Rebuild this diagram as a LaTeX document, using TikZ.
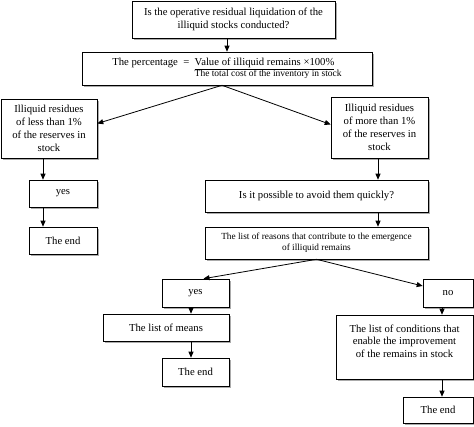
\documentclass[tikz,border=0pt]{standalone}
\usepackage{fontspec}
\setmainfont{Liberation Serif}
\usetikzlibrary{arrows.meta,shadows}
\tikzset{
	box/.style = {draw, semithick, fill = white, align = center, inner sep = 0pt,
		drop shadow = {shadow xshift = 2pt, shadow yshift = -2pt, fill = black!55, opacity = 0.6}},
	arr/.style = {thick, -{Triangle[length = 6pt, width = 5pt]}}
}
\begin{document}
\begin{tikzpicture}[x = 1pt, y = -1pt, font = \fontsize{10.7}{13}\selectfont]
	\useasboundingbox (0,0) rectangle (474,426);
	% first question and the ratio
	\node [box, minimum width = 203, minimum height = 37] (ask) at (233.5,19.5) {Is the operative residual liquidation of the\\ illiquid stocks conducted?};
	\node [box, minimum width = 290, minimum height = 33] (ratio) at (227,68.5) {The percentage\ \ =\ \ \begin{tabular}[t]{@{}l@{}}\underline{Value of illiquid remains ×100\%}\\[-2.5pt] {\fontsize{9.5}{10}\selectfont The total cost of the inventory in stock}\end{tabular}};
	% two branches
	\node [box, minimum width = 96, minimum height = 59] (less) at (49,128.5) {Illiquid residues\\ of less than 1\%\\ of the reserves in\\ stock};
	\node [box, minimum width = 97, minimum height = 61] (more) at (379.5,127.5) {Illiquid residues\\ of more than 1\%\\ of the reserves in\\ stock};
	\node [box, minimum width = 68, minimum height = 27] (yesA) at (63,193.5) {yes};
	\node [box, minimum width = 68, minimum height = 27] (endA) at (63,240.5) {The end};
	\node [box, minimum width = 223, minimum height = 32] (avoid) at (316.5,196) {Is it possible to avoid them quickly?};
	\node [box, minimum width = 223, minimum height = 32, font = \fontsize{9.3}{11}\selectfont] (reasons) at (316.5,243) {The list of reasons that contribute to the emergence\\ of illiquid remains};
	% yes / no below
	\node [box, minimum width = 67, minimum height = 28] (yesB) at (195.5,293) {yes};
	\node [box, minimum width = 50, minimum height = 28] (noB) at (448,293) {no};
	\node [box, minimum width = 126, minimum height = 27] (means) at (166,327.5) {The list of means};
	\node [box, minimum width = 67, minimum height = 28] (endB) at (195.5,372) {The end};
	\node [box, minimum width = 137, minimum height = 64, font = \fontsize{10.7}{12.5}\selectfont] (cond) at (404.5,347) {The list of conditions that\\ enable the improvement\\ of the remains in stock\\ ~};
	\node [box, minimum width = 70, minimum height = 26] (endC) at (438,410) {The end};
	% connectors
	\draw [arr] (ask.south -| ratio.north) -- (ratio.north);
	\draw [arr] ([xshift = -5pt]ratio.south) -- ([yshift = 5pt]less.east);
	\draw [arr] ([xshift = -5pt]ratio.south) -- ([yshift = 3pt]more.west);
	\draw [arr] ([xshift = -20pt]yesA.north |- less.south) -- ([xshift = -20pt]yesA.north);
	\draw [arr] ([xshift = -20pt]yesA.south) -- ([xshift = -20pt]endA.north);
	\draw [arr] ([xshift = -1.5pt]more.south) -- ([xshift = -1.5pt]more.south |- avoid.north);
	\draw [arr] ([xshift = -1.5pt]more.south |- avoid.south) -- ([xshift = -1.5pt]more.south |- reasons.north);
	\draw [arr] (reasons.south) -- ([xshift = 8pt]yesB.north);
	\draw [arr] (reasons.south) -- ([yshift = 7pt]noB.west);
	\draw [arr] ([xshift = -4.5pt]yesB.south) -- ([xshift = -4.5pt]yesB.south |- means.north);
	\draw [arr] ([xshift = -4.5pt]yesB.south |- means.south) -- ([xshift = -4.5pt]endB.north);
	\draw [arr] ([xshift = -6pt]noB.south) -- ([xshift = -6pt]noB.south |- cond.north);
	\draw [arr] ([xshift = -6pt]noB.south |- cond.south) -- ([xshift = -6pt]noB.south |- endC.north);
\end{tikzpicture}
\end{document}
